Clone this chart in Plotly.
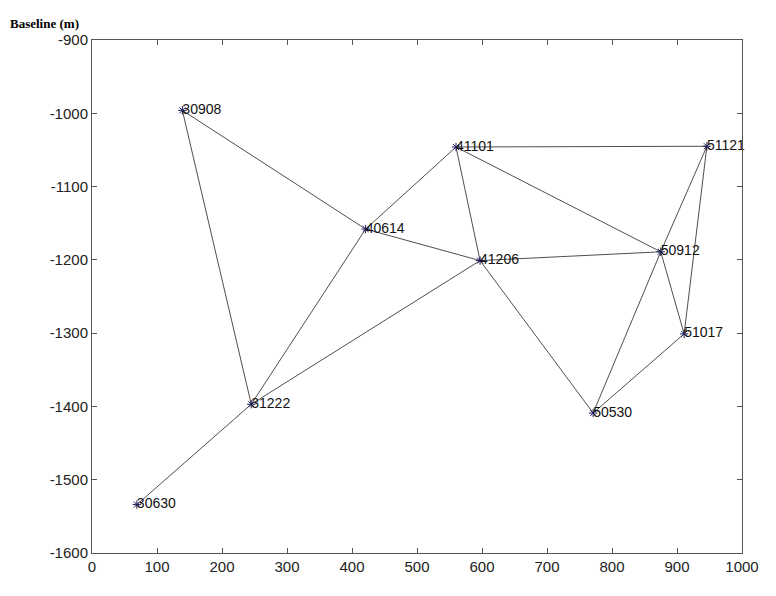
import plotly.graph_objects as go

# Nodes (acquisition dates) with time (x) and baseline (y)
node_names = ["30908", "41101", "51121", "40614", "41206", "50912", "51017", "50530", "31222", "30630"]
node_x = [139, 560, 946, 421, 597, 875, 911, 771, 245, 69]
node_y = [-996, -1046, -1045, -1158, -1201, -1189, -1301, -1409, -1397, -1534]

# Interferometric pairs (edges)
edge_from = ["30908", "30908", "31222", "31222", "31222", "40614", "40614", "41101", "41101", "41101",
             "41206", "41206", "50912", "50912", "51121", "50530", "50530"]
edge_to = ["40614", "31222", "40614", "41206", "30630", "41101", "41206", "41206", "51121", "50912",
           "50912", "50530", "51121", "51017", "51017", "51017", "50912"]

x_ticks = list(range(0, 1001, 100))
y_ticks = list(range(-1600, -899, 100))

pos = {n: (x, y) for n, x, y in zip(node_names, node_x, node_y)}
ex, ey = [], []
for a, b in zip(edge_from, edge_to):
    ex += [pos[a][0], pos[b][0], None]
    ey += [pos[a][1], pos[b][1], None]

fig = go.Figure()
fig.add_trace(go.Scatter(x=ex, y=ey, mode="lines",
                         line=dict(color="#222222", width=0.8), hoverinfo="skip", showlegend=False))
fig.add_trace(go.Scatter(x=node_x, y=node_y, mode="markers",
                         marker=dict(symbol="asterisk-open", size=7, color="#1a1a5a",
                                     line=dict(width=1, color="#1a1a5a")),
                         showlegend=False))
fig.add_trace(go.Scatter(x=node_x, y=node_y, mode="text", text=node_names,
                         textposition="middle right", cliponaxis=False,
                         textfont=dict(family="Arial, Liberation Sans, sans-serif", size=14, color="#111111"),
                         hoverinfo="skip", showlegend=False))

axis_common = dict(showgrid=False, zeroline=False, showline=True, linecolor="#555555", linewidth=1,
                   mirror="ticks", ticks="inside", ticklen=5, tickcolor="#555555",
                   tickfont=dict(family="Arial, Liberation Sans, sans-serif", size=15, color="#222222"))

fig.update_xaxes(range=[0, 1000], tickvals=x_ticks, ticktext=[str(v) for v in x_ticks], **axis_common)
fig.update_yaxes(range=[-1600, -900], tickvals=y_ticks, ticktext=[str(v) for v in y_ticks], **axis_common)

fig.add_annotation(text="<b>Baseline (m)</b>", xref="paper", yref="paper", x=-0.1292, y=1.033,
                   xanchor="left", yanchor="middle", showarrow=False,
                   font=dict(family="Liberation Serif, Times New Roman, serif", size=13, color="#000000"))
fig.add_annotation(text="<b>Time (day)</b>", xref="paper", yref="paper", x=1.038, y=0.004,
                   xanchor="left", yanchor="middle", showarrow=False,
                   font=dict(family="Liberation Serif, Times New Roman, serif", size=14, color="#000000"))

fig.update_layout(width=776, height=596, margin=dict(l=84, r=42, t=32, b=51),
                  plot_bgcolor="white", paper_bgcolor="white")

fig.write_html("out.html")
